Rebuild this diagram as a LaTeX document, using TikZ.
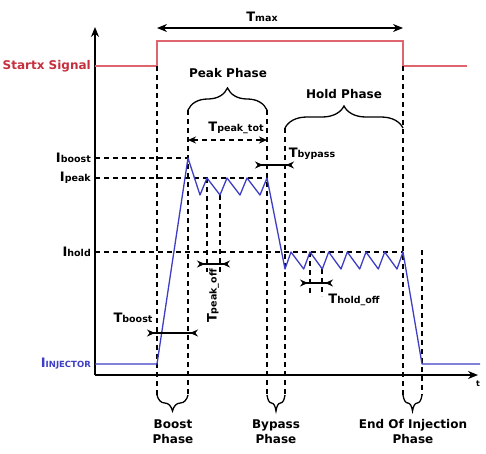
\documentclass[tikz,border=0pt]{standalone}
\usepackage{fontspec}
\setmainfont{DejaVu Sans}
\usepackage{tikz}
\usetikzlibrary{decorations.pathreplacing}
\usetikzlibrary{arrows.meta,positioning}

\definecolor{sigred}{RGB}{222,100,110}
\definecolor{labred}{RGB}{196,48,62}
\definecolor{curblue}{RGB}{62,62,196}

% big letter followed by a smaller tail on the same baseline
\newcommand{\bigsmall}[2]{{\fontsize{13}{15}\selectfont #1}{\fontsize{9.5}{15}\selectfont #2}}

\begin{document}
\begin{tikzpicture}[x=1pt,y=-1pt,
  lbl/.style={font=\bfseries\fontsize{12}{15}\selectfont, inner sep=1pt},
  guide/.style={dash pattern=on 5pt off 4pt, line width=1.1pt},
  dimarrow/.style={line width=1.1pt,{Stealth[length=8pt,width=7pt,reversed]}-{Stealth[length=8pt,width=7pt,reversed]}},
  axis/.style={line width=1.4pt,-{Stealth[length=10pt,width=8pt]}}]

\useasboundingbox (0,0) rectangle (486,453);

% axes
\draw[axis] (95,375) -- (95,27);
\draw[axis] (95,375) -- (478,375);
\node[font=\bfseries\fontsize{8}{10}\selectfont] (tlab) at (478,384) {t};

% start signal
\draw[sigred, line width=1.5pt] (95,66) -- (157,66) -- (157,41) -- (403,41) -- (403,66) -- (467,66);
\node[lbl, text=labred, anchor=east] (startx) at (92,66) {Startx Signal};

% max time
\draw[line width=1.3pt,{Stealth[length=10pt,width=8pt]}-{Stealth[length=10pt,width=8pt]}] (157,28) -- (403,28);
\node[lbl] (tmax) at (262,17) {\bigsmall{T}{max}};

% guide lines
\draw[guide] (95,158) -- (188,158);
\draw[guide] (95,178) -- (267,178);
\draw[guide] (95,252) -- (403,252);
\draw[guide] (157,66) -- (157,395);
\draw[guide] (188,110) -- (188,395);
\draw[guide] (267,110) -- (267,395);
\draw[guide] (285,128) -- (285,395);
\draw[guide] (403,66) -- (403,395);
\draw[guide] (422,250) -- (422,395);
\draw[guide] (207,178) -- (207,272);
\draw[guide] (220,195) -- (220,272);
\draw[guide] (310,252) -- (310,296);
\draw[guide] (322,269) -- (322,296);

% injector current
\draw[curblue, line width=1.3pt, line join=round] (95,364) -- (157,364) -- (188,158)
  -- (200,195) -- (207,178) -- (220,195) -- (227,178) -- (240,195) -- (247,178) -- (260,195) -- (267,178)
  -- (285,269) -- (291,252) -- (303.7,269) -- (310,252) -- (322.3,269) -- (328.7,252) -- (341,269) -- (347.3,252)
  -- (359.7,269) -- (366,252) -- (378.3,269) -- (384.7,252) -- (397,269) -- (403,252)
  -- (422,364) -- (480,364);

% level labels
\node[lbl, anchor=east] (iboost) at (92,158) {\bigsmall{I}{boost}};
\node[lbl, anchor=east] (ipeak) at (92,178) {\bigsmall{I}{peak}};
\node[lbl, anchor=east] (ihold) at (92,252) {\bigsmall{I}{hold}};
\node[lbl, anchor=east, text=curblue] (iinj) at (92,364) {{\fontsize{13}{15}\selectfont I}{\fontsize{8.5}{15}\selectfont INJECTOR}};

% phases on top
\draw[decorate, decoration={brace, amplitude=22pt}, line width=1.3pt] (188,110) -- (267,110);
\node[lbl] (peakph) at (228,73) {Peak Phase};
\draw[decorate, decoration={brace, amplitude=22pt}, line width=1.3pt] (285,128) -- (403,128);
\node[lbl] (holdph) at (344,94) {Hold Phase};

% phases below
\draw[decorate, decoration={brace, amplitude=16pt}, line width=1.3pt] (188,395) -- (157,395);
\draw[decorate, decoration={brace, amplitude=16pt}, line width=1.3pt] (285,395) -- (267,395);
\draw[decorate, decoration={brace, amplitude=16pt}, line width=1.3pt] (422,395) -- (403,395);
\node[lbl, align=center] (boostph) at (173,432) {Boost\\Phase};
\node[lbl, align=center] (bypassph) at (276,432) {Bypass\\Phase};
\node[lbl, align=center] (endph) at (413,432) {End Of Injection\\Phase};

% times
\draw[guide, {Stealth[length=8pt,width=7pt]}-{Stealth[length=8pt,width=7pt]}] (188,140) -- (267,140);
\node[lbl] (tpeaktot) at (236,128) {\bigsmall{T}{peak\_tot}};
\draw[dimarrow] (255,165) -- (294,165);
\node[lbl] (tbypass) at (312,154) {\bigsmall{T}{bypass}};
\draw[dimarrow] (147,333) -- (198,333);
\node[lbl] (tboost) at (133,318) {\bigsmall{T}{boost}};
\draw[dimarrow] (197,264) -- (230,264);
\node[lbl, rotate=90] (tpeakoff) at (213,296) {\bigsmall{T}{peak\_off}};
\draw[dimarrow] (300,283) -- (333,283);
\node[lbl] (tholdoff) at (354,300) {\bigsmall{T}{hold\_off}};

\end{tikzpicture}
\end{document}
